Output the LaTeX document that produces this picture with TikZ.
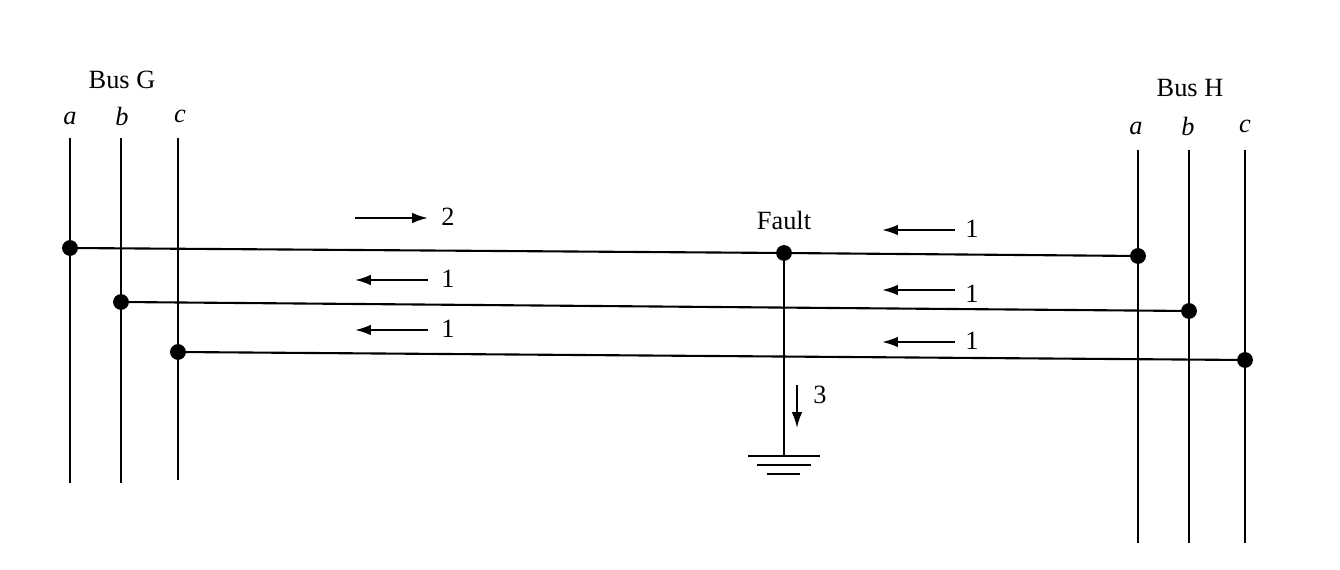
\documentclass[tikz,border=0pt]{standalone}
\usepackage{fontspec}
\setmainfont{Liberation Serif}
\usetikzlibrary{arrows.meta}
\begin{document}
\begin{tikzpicture}[x=0.02cm,y=-0.02cm,
  wire/.style={line width=1.2pt},
  dot/.style={circle,fill=black,inner sep=0pt,minimum size=9pt},
  lbl/.style={font=\fontsize{15}{18}\selectfont},
  ilbl/.style={font=\fontsize{15}{18}\selectfont\itshape},
  arr/.style={line width=1.2pt,-{Latex[length=9pt,width=6pt]}}]
\useasboundingbox (0,0) rectangle (1340,570);
% Bus G
\node[lbl] (bg) at (122,80) {Bus G};
\node[ilbl] (ga) at (70,118) {a};
\node[ilbl] (gb) at (122,116) {b};
\node[ilbl] (gc) at (180,116) {c};
\coordinate (gat) at (70,138); \coordinate (gab) at (70,483);
\coordinate (gbt) at (121,138); \coordinate (gbb) at (121,483);
\coordinate (gct) at (178,138); \coordinate (gcb) at (178,480);
\draw[wire] (gat)--(gab); \draw[wire] (gbt)--(gbb); \draw[wire] (gct)--(gcb);
% Bus H
\node[lbl] (bh) at (1190,88) {Bus H};
\node[ilbl] (ha) at (1136,128) {a};
\node[ilbl] (hb) at (1188,126) {b};
\node[ilbl] (hc) at (1245,126) {c};
\coordinate (hat) at (1138,150); \coordinate (hab) at (1138,543);
\coordinate (hbt) at (1189,150); \coordinate (hbb) at (1189,543);
\coordinate (hct) at (1245,150); \coordinate (hcb) at (1245,543);
\draw[wire] (hat)--(hab); \draw[wire] (hbt)--(hbb); \draw[wire] (hct)--(hcb);
% dots
\node[dot] (da) at (70,248) {};
\node[dot] (db) at (121,302) {};
\node[dot] (dc) at (178,352) {};
\node[dot] (f) at (784,253) {};
\node[dot] (ea) at (1138,256) {};
\node[dot] (eb) at (1189,311) {};
\node[dot] (ec) at (1245,360) {};
\draw[wire] (da.center)--(f.center)--(ea.center);
\draw[wire] (db.center)--(eb.center);
\draw[wire] (dc.center)--(ec.center);
\node[lbl] (fl) at (784,220) {Fault};
% ground
\coordinate (g) at (784,456);
\draw[wire] (f.center)--(g);
\draw[wire] (748,456)--(820,456);
\draw[wire] (757,465)--(811,465);
\draw[wire] (767,474)--(800,474);
% arrows
\draw[arr] (355,218)--(428,218); \node[lbl] (l1) at (448,217) {2};
\draw[arr] (428,280)--(355,280); \node[lbl] (l2) at (448,279) {1};
\draw[arr] (428,330)--(355,330); \node[lbl] (l3) at (448,329) {1};
\draw[arr] (955,230)--(882,230); \node[lbl] (l4) at (972,229) {1};
\draw[arr] (955,290)--(882,290); \node[lbl] (l5) at (972,294) {1};
\draw[arr] (955,342)--(882,342); \node[lbl] (l6) at (972,341) {1};
\draw[arr] (797,385)--(797,428); \node[lbl] (l7) at (820,395) {3};
\end{tikzpicture}
\end{document}
